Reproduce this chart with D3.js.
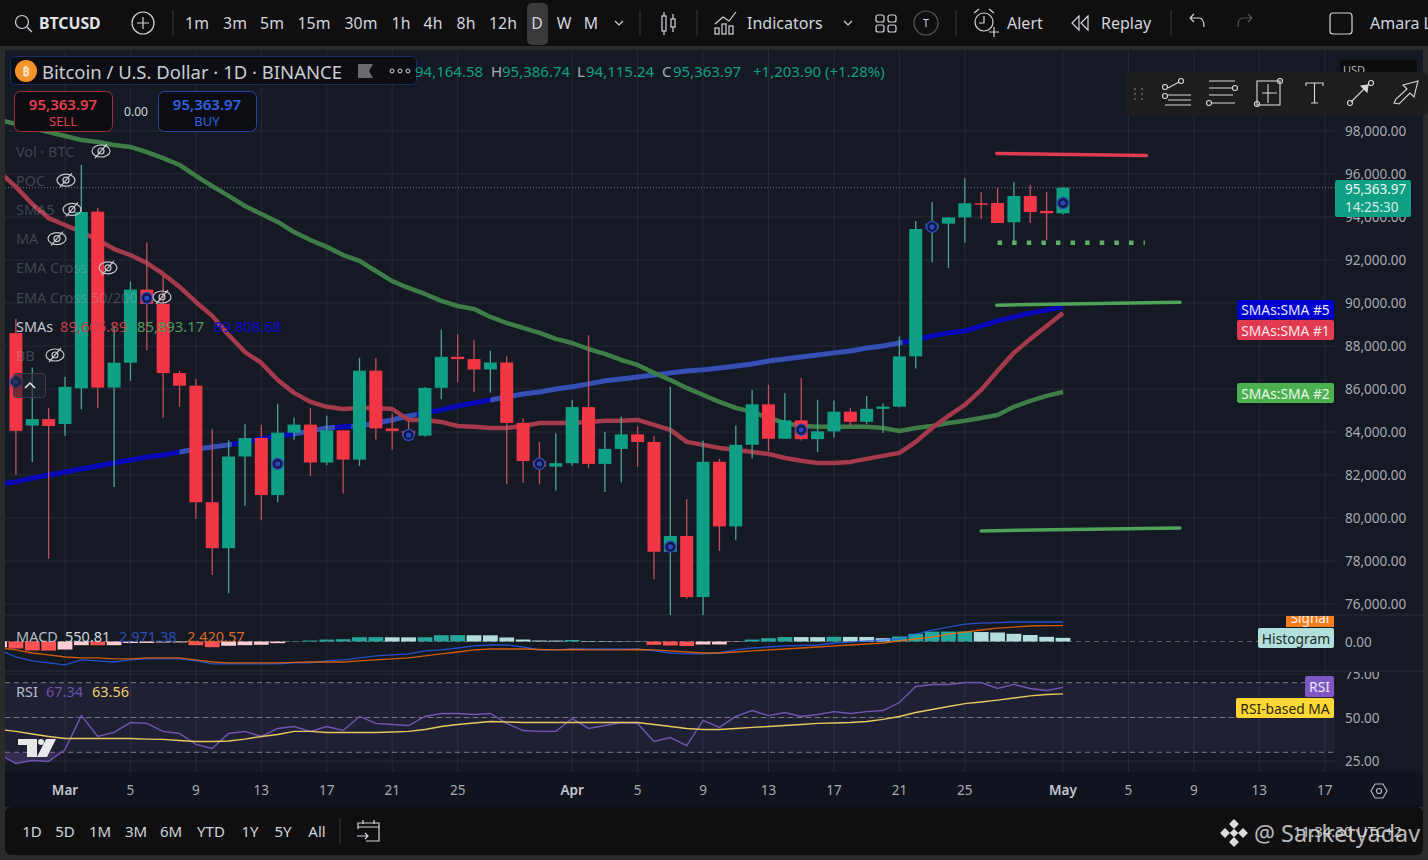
<!DOCTYPE html>
<html>
<head>
<meta charset="utf-8">
<script src="https://cdn.jsdelivr.net/npm/d3@7"></script>
<style>
  html, body { margin: 0; background: #2a2a2a; overflow: hidden; }
  text { font-family: "Noto Sans", "Open Sans", sans-serif; }
</style>
</head>
<body>
<div id="wrapper"></div>
<script>
// candles, one per day, first one is Feb 26 (day -3, Mar 1 is day 0)
const open = [88600,84300,84600,84373,86031,94248,86065,87222,90624,89961,86742,86154,80734,78595,82858,83722,81066,83969,84343,82579,84075,82718,86854,84167,84043,83832,86054,87498,87392,86909,87232,84424,82648,82389,82550,85159,82516,83213,83889,83537,78430,79163,76322,82615,79607,83404,85287,83684,84542,83668,84030,84947,84474,85077,85179,87516,93442,93691,93980,94638,94650,93755,94978,94284,94172];
const high = [89260,87000,85120,86560,96420,94416,88911,90998,92810,91283,86847,86471,84123,83617,84357,84336,85309,84672,85117,84756,84075,87453,87443,84850,84513,86094,88765,88542,88292,87786,87515,84624,83534,83943,85487,88500,83998,84720,84266,83817,86100,80867,83588,82753,84300,85956,86200,85800,86496,85500,85470,85132,85677,85320,88440,93817,94696,94000,95800,95160,95350,95630,95490,95160,95386];
const low = [82000,82600,78100,83824,85050,85117,81440,86379,87800,84667,85170,79960,77350,76500,80560,79900,80750,83639,81960,82456,81134,82409,83655,83175,83674,83795,85519,86310,85858,85837,81565,81644,81565,81279,82432,82320,81211,81659,82379,77153,74508,76239,74620,78464,78969,82769,83111,83690,83600,83070,83736,84303,84364,83949,85144,86950,91900,91630,92800,93900,93720,92880,93720,92930,94115];
const close = [84050,84600,84280,86100,94233,86065,87222,90624,89961,86742,86154,80734,78595,82858,83722,81066,83969,84343,82579,84075,82718,86854,84167,84043,83832,86054,87498,87392,86909,87232,84424,82648,82389,82550,85159,82516,83213,83889,83537,78430,79163,76322,82615,79607,83404,85287,83684,84542,83668,84030,84947,84474,85077,85179,87516,93442,93691,93980,94638,94630,93720,94978,94230,94172,95364];

// SMAs and indicators, one per day, first one is Feb 25 (day -4)
const sma1 = [96090,95400,94600,93950,93630,93300,92930,92510,92230,91860,91350,90750,90050,89400,88510,87720,87210,86420,85820,85400,85170,85070,85120,85120,85070,84560,84560,84470,84280,84240,84190,84190,84280,84420,84420,84420,84470,84520,84520,84560,84330,84100,83540,83400,83260,83170,83070,82980,82790,82660,82560,82560,82610,82750,82890,83030,83540,84190,84750,85260,85960,86840,87680,88330,88930,89530];
const sma2 = [98510,98330,98140,97950,97770,97580,97490,97350,97260,97020,96740,96420,95910,95440,94980,94510,94140,93770,93300,92930,92610,92230,91960,91490,91020,90700,90420,90100,89860,89720,89350,89070,88840,88610,88330,88140,87860,87630,87350,87120,86750,86420,86050,85720,85400,85120,84930,84650,84420,84280,84240,84240,84240,84240,84190,84050,84190,84280,84420,84520,84650,84790,85170,85450,85680,85860];
const sma5 = [81585,81680,81860,82000,82140,82280,82420,82560,82700,82840,82930,83070,83210,83300,83400,83540,83680,83820,83910,84050,84190,84240,84280,84420,84560,84750,84890,85030,85210,85350,85490,85630,85770,85860,86000,86100,86240,86380,86470,86560,86650,86750,86840,86890,86980,87070,87160,87300,87400,87490,87580,87680,87770,87910,88000,88140,88280,88470,88610,88700,88930,89170,89350,89530,89670,89810];
const macdLine = [-1290,-2360,-2960,-3270,-3570,-2810,-2960,-3120,-2810,-2660,-2660,-2660,-2960,-3420,-3420,-3420,-3420,-3420,-3270,-3270,-2960,-2810,-2510,-2200,-2050,-1900,-1440,-1290,-990,-680,-530,-530,-840,-1290,-1290,-1140,-1140,-1140,-1140,-1140,-1440,-1750,-1900,-1900,-1750,-1290,-990,-840,-680,-610,-530,-230,-80,80,230,380,1140,1750,2200,2660,2810,2890,2970,2970,2970,2971];
const signalLine = [-990,-1290,-1750,-2050,-2360,-2510,-2510,-2660,-2660,-2510,-2510,-2510,-2810,-3120,-3270,-3270,-3270,-3270,-3190,-3120,-3120,-3120,-2960,-2810,-2660,-2510,-2200,-1900,-1600,-1290,-1140,-1140,-1140,-1220,-1290,-1220,-1290,-1290,-1290,-1220,-1290,-1440,-1600,-1750,-1750,-1600,-1440,-1290,-1140,-990,-840,-680,-530,-380,-230,80,380,680,1140,1440,1750,2050,2200,2360,2430,2420];
const histValues = [-910,-1060,-1370,-1380,-1220,-560,-570,-560,-230,-220,-150,-140,-560,-870,-650,-560,-500,-260,50,150,300,350,650,660,640,630,650,960,970,950,940,610,300,150,140,230,80,70,50,40,-500,-610,-680,-460,-450,-50,300,500,680,670,660,710,700,690,500,760,1170,1510,1520,1530,1440,1370,1170,990,710,551];
const rsiValues = [28.7,23.6,25.3,24.7,31.6,51.1,39.1,41.4,47.1,46.6,42,40.8,34.5,32.2,40.8,42,39.1,43.7,44.8,42,44.8,42.5,50.6,46.6,46,45.4,50.6,52.3,52.3,51.7,52.3,46.6,42.5,42,42,49.4,43.7,45.4,47.1,46.6,36.2,38.5,33.9,48.3,44.3,50.6,54,51.1,52.9,50.6,51.7,53.4,52.3,53.4,54,58.6,67.8,69,69,70.1,70.1,66.7,69,66.7,65.5,67.34];
const rsiMa = [43.1,42,40.5,39.1,37.9,37.9,37.9,37.9,37.9,37.6,37.4,36.8,36.2,36.2,36.5,37.6,39.1,40.2,42,42,41.4,41.4,41.4,41.4,41.7,42,43.1,44.8,46,46.8,47.7,47.4,47.1,47.1,47.1,47.1,47.1,47.1,47.1,47.1,46,44.8,43.7,43.1,43.1,43.7,44.3,44.8,45.4,46,46.6,46.8,47.1,47.7,48.9,50.6,52.9,54.6,56.3,58,58.9,60,61.2,62.4,63.2,63.56];

// blue round markers every 8 days
const markerDays = [-3,5,13,21,29,37,45,53,61];
const markerPrices = [86330,90230,82520,83860,82520,78660,84100,93540,94650];

// lines the user drew on the chart [day, price, day, price]
const drawnRed = [[56.95,96950,66.1,96860]];
const drawnGreen = [[56.95,89900,68.15,90040],[56,79400,68.15,79540]];
const drawnDots = [57,92800,66,92800];

// stretches where the SMA #5 line looks paler
const blueLightSpans = [[7,10.2],[14,16.5],[17.5,21.5],[26,51.2]];

// axis
const priceTicks = [76000,78000,80000,82000,84000,86000,88000,90000,92000,94000,96000,98000];
const rsiTicks = [25,50,75];
const rsiLevels = [30,50,70];
const tickDays = [0,4,8,12,16,20,24,31,35,39,43,47,51,55,61,65,69,73,77];
const tickLabels = ["Mar","5","9","13","17","21","25","Apr","5","9","13","17","21","25","May","5","9","13","17"];

// toolbar words
const intervals = ["1m","3m","5m","15m","30m","1h","4h","8h","12h","D","W","M"];
const intervalX = [197,235,272,314,361,401,433,466,503,537,564,591];
const ranges = ["1D","5D","1M","3M","6M","YTD","1Y","5Y","All"];
const rangeX = [32,65,100,136,171,211,250,283,317];
const hiddenStudies = ["Vol · BTC","POC","SMA5","MA","EMA Cross","EMA Cross 50/200"];
const hiddenEyeX = [101,66,72,57,108,162];

const lastPrice = 95363.97;
const upColor = "#0f9f85", downColor = "#f23645";

const drawChart = () => {

    //1. dimensions
    const W = 1428, H = 860;
    const left = 5, paneRight = 1335, rightEdge = 1423;
    const mainBottom = 615, macdBottom = 671, rsiBottom = 772, timeBottom = 807;

    const svg = d3.select("#wrapper").append("svg")
        .attr("width", W).attr("height", H).style("display", "block");

    //2. scales
    const x = d3.scaleLinear().domain([0, 61]).range([65, 1063]);
    const y = d3.scaleLinear().domain([76000, 98000]).range([604, 131]);
    const yMacd = d3.scaleLinear().domain([0, 2971]).range([641.5, 622]);
    const yRsi = d3.scaleLinear().domain([25, 75]).range([761, 674]);

    const lineDays = d3.range(-4, 62);
    const candleDays = d3.range(-3, 62);

    const fmt = d3.format(",.2f");
    const label = (g, px, py, str, o = {}) => g.append("text")
        .attr("x", px).attr("y", py)
        .attr("dominant-baseline", "central")
        .attr("text-anchor", o.anchor || "start")
        .attr("fill", o.fill || "#d1d4dc")
        .attr("font-size", o.size || 14)
        .attr("font-weight", o.weight || 400)
        .text(str);

    //3. backgrounds
    svg.append("rect").attr("width", W).attr("height", H).attr("fill", "#2b2b2b");
    svg.append("rect").attr("x", 0).attr("y", 0).attr("width", W).attr("height", 46).attr("fill", "#0f0f0f");
    svg.append("rect").attr("x", left).attr("y", 50).attr("width", rightEdge - left).attr("height", rsiBottom - 50).attr("fill", "#151923");
    svg.append("rect").attr("x", left).attr("y", rsiBottom).attr("width", rightEdge - left).attr("height", timeBottom - rsiBottom).attr("fill", "#11141f");
    svg.append("rect").attr("x", left).attr("y", timeBottom).attr("width", rightEdge - left).attr("height", 48).attr("rx", 6).attr("fill", "#0f0f0f");

    const defs = svg.append("defs");
    const clip = (id, x0, y0, x1, y1) => defs.append("clipPath").attr("id", id)
        .append("rect").attr("x", x0).attr("y", y0).attr("width", x1 - x0).attr("height", y1 - y0);
    clip("mainClip", left, 50, paneRight, mainBottom);
    clip("macdClip", left, mainBottom + 1, paneRight, macdBottom);
    clip("rsiClip", left, macdBottom + 1, paneRight, rsiBottom);
    clip("rsiLowClip", left, yRsi(30), paneRight, rsiBottom);
    clip("rsiAxisClip", paneRight, macdBottom + 1, rightEdge, rsiBottom);
    const blueClip = defs.append("clipPath").attr("id", "blueClip");
    blueLightSpans.forEach(s => blueClip.append("rect")
        .attr("x", x(s[0])).attr("y", 50).attr("width", x(s[1]) - x(s[0])).attr("height", 565));

    //4. grid
    const grid = svg.append("g").attr("stroke", "#262a36").attr("stroke-width", 1);
    tickDays.forEach(d => grid.append("line").attr("x1", x(d)).attr("x2", x(d)).attr("y1", 50).attr("y2", rsiBottom));
    priceTicks.forEach(p => grid.append("line").attr("x1", left).attr("x2", paneRight).attr("y1", y(p)).attr("y2", y(p)));
    rsiTicks.forEach(p => grid.append("line").attr("x1", left).attr("x2", paneRight).attr("y1", yRsi(p)).attr("y2", yRsi(p)));
    [mainBottom, macdBottom].forEach(p => grid.append("line").attr("x1", left).attr("x2", rightEdge).attr("y1", p).attr("y2", p).attr("stroke", "#2a2e3a"));

    //5. main pane
    const main = svg.append("g").attr("clip-path", "url(#mainClip)");

    main.append("line").attr("x1", left).attr("x2", paneRight)
        .attr("y1", y(lastPrice)).attr("y2", y(lastPrice))
        .attr("stroke", "#6f7380").attr("stroke-dasharray", "1 2");

    const smaLine = d3.line().x((d, i) => x(lineDays[i])).y(d => y(d)).curve(d3.curveLinear);
    main.append("path").attr("d", smaLine(sma5)).attr("fill", "none").attr("stroke", "#0808b8").attr("stroke-width", 5);
    main.append("path").attr("d", smaLine(sma5)).attr("fill", "none").attr("stroke", "#3650b0").attr("stroke-width", 5).attr("clip-path", "url(#blueClip)");
    main.append("path").attr("d", smaLine(sma2)).attr("fill", "none").attr("stroke", "#3f7d48").attr("stroke-width", 4.5).attr("stroke-linejoin", "round");
    main.append("path").attr("d", smaLine(sma1)).attr("fill", "none").attr("stroke", "#a43a4c").attr("stroke-width", 4.5).attr("stroke-linejoin", "round");

    // wicks then bodies
    main.append("g").selectAll("line").data(candleDays).join("line")
        .attr("x1", d => x(d)).attr("x2", d => x(d))
        .attr("y1", (d, i) => y(high[i])).attr("y2", (d, i) => y(low[i]))
        .attr("stroke", (d, i) => close[i] >= open[i] ? "#4da392" : "#c2505e")
        .attr("stroke-width", 1.3);
    main.append("g").selectAll("rect").data(candleDays).join("rect")
        .attr("x", d => x(d) - 6.5).attr("width", 13)
        .attr("y", (d, i) => y(Math.max(open[i], close[i])))
        .attr("height", (d, i) => Math.max(1.5, Math.abs(y(open[i]) - y(close[i]))))
        .attr("fill", (d, i) => close[i] >= open[i] ? upColor : downColor);

    // drawn lines
    drawnRed.forEach(l => main.append("line").attr("x1", x(l[0])).attr("y1", y(l[1])).attr("x2", x(l[2])).attr("y2", y(l[3]))
        .attr("stroke", "#e23a50").attr("stroke-width", 3.5).attr("stroke-linecap", "round"));
    drawnGreen.forEach(l => main.append("line").attr("x1", x(l[0])).attr("y1", y(l[1])).attr("x2", x(l[2])).attr("y2", y(l[3]))
        .attr("stroke", "#4fa257").attr("stroke-width", 3.5).attr("stroke-linecap", "round"));
    main.append("line").attr("x1", x(drawnDots[0])).attr("y1", y(drawnDots[1])).attr("x2", x(drawnDots[2])).attr("y2", y(drawnDots[3]))
        .attr("stroke", "#5fae68").attr("stroke-width", 4.5).attr("stroke-dasharray", "4.5 10.1");

    // round markers
    markerDays.forEach((d, i) => {
        main.append("circle").attr("cx", x(d)).attr("cy", y(markerPrices[i])).attr("r", 5.5)
            .attr("fill", "#10163c").attr("stroke", "#2d48b4").attr("stroke-width", 1.5);
        main.append("circle").attr("cx", x(d)).attr("cy", y(markerPrices[i])).attr("r", 2.6).attr("fill", "#2a46c0");
    });

    //6. MACD pane
    const macd = svg.append("g").attr("clip-path", "url(#macdClip)");
    macd.append("line").attr("x1", left).attr("x2", paneRight).attr("y1", yMacd(0)).attr("y2", yMacd(0))
        .attr("stroke", "#5b606d").attr("stroke-dasharray", "5 4");
    const histColor = (v, i) => {
        const prev = i > 0 ? histValues[i - 1] : v;
        if (v >= 0) return v >= prev ? "#26a69a" : "#b2dfdb";
        return v < prev ? "#ff5252" : "#ffcdd2";
    };
    macd.append("g").selectAll("rect").data(histValues).join("rect")
        .attr("x", (d, i) => x(lineDays[i]) - 7.4).attr("width", 14.8)
        .attr("y", d => Math.min(yMacd(0), yMacd(d)))
        .attr("height", d => Math.abs(yMacd(d) - yMacd(0)))
        .attr("fill", histColor);
    const macdPath = d3.line().x((d, i) => x(lineDays[i])).y(d => yMacd(d));
    macd.append("path").attr("d", macdPath(macdLine)).attr("fill", "none").attr("stroke", "#2962ff").attr("stroke-opacity", .75).attr("stroke-width", 1.3);
    macd.append("path").attr("d", macdPath(signalLine)).attr("fill", "none").attr("stroke", "#ff6d00").attr("stroke-opacity", .8).attr("stroke-width", 1.3);

    //7. RSI pane
    const rsi = svg.append("g").attr("clip-path", "url(#rsiClip)");
    rsi.append("rect").attr("x", left).attr("width", paneRight - left)
        .attr("y", yRsi(70)).attr("height", yRsi(30) - yRsi(70)).attr("fill", "#7e57c2").attr("opacity", .11);
    rsiLevels.forEach(l => rsi.append("line").attr("x1", left).attr("x2", paneRight).attr("y1", yRsi(l)).attr("y2", yRsi(l))
        .attr("stroke", "#787b86").attr("stroke-dasharray", "5 4"));
    rsi.append("path")
        .attr("d", d3.area().x((d, i) => x(lineDays[i])).y0(yRsi(30)).y1(d => yRsi(d))(rsiValues))
        .attr("fill", "#7e57c2").attr("opacity", .3).attr("clip-path", "url(#rsiLowClip)");
    const rsiPath = d3.line().x((d, i) => x(lineDays[i])).y(d => yRsi(d));
    rsi.append("path").attr("d", rsiPath(rsiValues)).attr("fill", "none").attr("stroke", "#7155b0").attr("stroke-width", 1.4);
    rsi.append("path").attr("d", rsiPath(rsiMa)).attr("fill", "none").attr("stroke", "#e8c860").attr("stroke-width", 1.4);

    // TradingView mark
    const tv = svg.append("g").attr("fill", "#e8e8e8");
    tv.append("path").attr("d", "M18 739H37V757H27V745H18Z");
    tv.append("circle").attr("cx", 41).attr("cy", 742).attr("r", 3);
    tv.append("path").attr("d", "M46 739H56L47 757H37Z");

    //8. price axis and time axis
    const axisFill = "#a7aab4";
    priceTicks.forEach(p => label(svg, 1345, y(p), fmt(p), { fill: axisFill, size: 13.5 }));
    label(svg, 1345, yMacd(0), "0.00", { fill: axisFill, size: 13.5 });
    const rsiAxis = svg.append("g").attr("clip-path", "url(#rsiAxisClip)");
    rsiTicks.forEach(p => label(rsiAxis, 1345, yRsi(p), fmt(p), { fill: axisFill, size: 13.5 }));
    tickDays.forEach((d, i) => {
        const isMonth = /[A-Za-z]/.test(tickLabels[i]);
        label(svg, x(d), 790, tickLabels[i], { anchor: "middle", fill: isMonth ? "#c4c7cf" : axisFill, size: 13.5, weight: isMonth ? 600 : 400 });
    });
    // settings hexagon
    svg.append("path").attr("d", "M1371 791L1375 784H1383L1387 791L1383 798H1375Z").attr("fill", "none").attr("stroke", "#b2b5be").attr("stroke-width", 1.2);
    svg.append("circle").attr("cx", 1379).attr("cy", 791).attr("r", 2.5).attr("fill", "none").attr("stroke", "#b2b5be").attr("stroke-width", 1.2);

    // last price tag
    svg.append("rect").attr("x", 1335).attr("y", 180).attr("width", 76).attr("height", 37).attr("rx", 2).attr("fill", upColor);
    label(svg, 1345, 189, fmt(lastPrice), { fill: "#eef6f4", size: 13.5 });
    label(svg, 1345, 207, "14:25:30", { fill: "#d5ece7", size: 13.5 });

    // series tags
    const tag = (x0, y0, w, h, fill, txt, color) => {
        svg.append("rect").attr("x", x0).attr("y", y0).attr("width", w).attr("height", h).attr("rx", 2).attr("fill", fill);
        label(svg, x0 + w / 2, y0 + h / 2, txt, { anchor: "middle", fill: color, size: 13.8 });
    };
    tag(1237, 300, 97, 19.5, "#0000d0", "SMAs:SMA #5", "#e8e8ff");
    tag(1237, 320, 97, 20, "#e23a50", "SMAs:SMA #1", "#fbe6e8");
    tag(1237, 383, 97, 20, "#4caf50", "SMAs:SMA #2", "#e8f6e8");
    // the Signal tag is cut by the pane edge
    defs.append("clipPath").attr("id", "signalClip").append("rect").attr("x", 1280).attr("y", 616).attr("width", 60).attr("height", 11);
    const sig = svg.append("g").attr("clip-path", "url(#signalClip)");
    sig.append("rect").attr("x", 1286).attr("y", 608).attr("width", 48).attr("height", 20).attr("rx", 2).attr("fill", "#f57c1f");
    label(sig, 1310, 618, "Signal", { anchor: "middle", fill: "#fff0e0", size: 13.5 });
    tag(1258, 628, 76, 20, "#b2dfdb", "Histogram", "#1a2a2a");
    tag(1305, 676, 29, 21, "#7e57c2", "RSI", "#f0eaff");
    tag(1236, 698, 98, 20, "#fdd835", "RSI-based MA", "#2a2410");

    //9. legend, top left
    svg.append("rect").attr("x", 10.5).attr("y", 56.5).attr("width", 406).attr("height", 28).attr("rx", 4)
        .attr("fill", "#0d0e13").attr("stroke", "#1c2c66");
    svg.append("circle").attr("cx", 26).attr("cy", 71).attr("r", 11).attr("fill", "#f4932a");
    label(svg, 26, 71, "₿", { anchor: "middle", fill: "#fbe3c8", size: 13, weight: 700 });
    label(svg, 42, 71, "Bitcoin / U.S. Dollar · 1D · BINANCE", { fill: "#c9ccd3", size: 18.5 });
    svg.append("path").attr("d", "M358 64H373L369 71L373 78H358Z").attr("fill", "#6b6b6b");
    [392, 400, 408].forEach(c => svg.append("circle").attr("cx", c).attr("cy", 71).attr("r", 2).attr("fill", "none").attr("stroke", "#d1d4dc"));

    const ohlcSize = 15;
    label(svg, 415, 71, "94,164.58", { fill: "#0f9f85", size: ohlcSize });
    label(svg, 491, 71, "H", { fill: "#a7aab4", size: ohlcSize });
    label(svg, 502, 71, "95,386.74", { fill: "#0f9f85", size: ohlcSize });
    label(svg, 577, 71, "L", { fill: "#a7aab4", size: ohlcSize });
    label(svg, 586, 71, "94,115.24", { fill: "#0f9f85", size: ohlcSize });
    label(svg, 662, 71, "C", { fill: "#a7aab4", size: ohlcSize });
    label(svg, 673, 71, "95,363.97", { fill: "#0f9f85", size: ohlcSize });
    label(svg, 753, 71, "+1,203.90 (+1.28%)", { fill: "#0f9f85", size: ohlcSize });

    // buy and sell boxes
    const tradeBox = (x0, border, color, price, side) => {
        svg.append("rect").attr("x", x0 + .5).attr("y", 91.5).attr("width", 98).attr("height", 40).attr("rx", 6)
            .attr("fill", "#0c0d12").attr("stroke", border);
        label(svg, x0 + 49, 103.5, price, { anchor: "middle", fill: color, size: 15, weight: 600 });
        label(svg, x0 + 49, 121, side, { anchor: "middle", fill: color, size: 13 });
    };
    tradeBox(14, "#9c3038", "#e2404c", "95,363.97", "SELL");
    tradeBox(158, "#234a9c", "#2f62e0", "95,363.97", "BUY");
    label(svg, 136, 111, "0.00", { anchor: "middle", fill: "#d1d4dc", size: 12 });

    // hidden studies with crossed eyes
    const eye = (cx, cy) => {
        const g = svg.append("g").attr("fill", "none").attr("stroke", "#c4c6cc").attr("stroke-width", 1.2);
        g.append("ellipse").attr("cx", cx).attr("cy", cy).attr("rx", 9).attr("ry", 6);
        g.append("circle").attr("cx", cx).attr("cy", cy).attr("r", 3);
        g.append("line").attr("x1", cx - 6).attr("y1", cy + 7).attr("x2", cx + 6).attr("y2", cy - 7);
    };
    const dim = "rgba(178,181,190,.3)";
    hiddenStudies.forEach((s, i) => {
        label(svg, 16, 151 + i * 29.2, s, { fill: dim, size: 14.4 });
        eye(hiddenEyeX[i], 151 + i * 29.2);
    });
    label(svg, 16, 326, "SMAs", { fill: "#c4c7cf", size: 14.4 });
    label(svg, 60, 326, "89,605.89", { fill: "#c8404c", size: 14.8 });
    label(svg, 137, 326, "85,893.17", { fill: "#4f9a58", size: 14.8 });
    label(svg, 214, 326, "89,808.68", { fill: "#0a0ad0", size: 14.8 });
    label(svg, 16, 355, "BB", { fill: dim, size: 14.4 });
    eye(55, 355);
    svg.append("rect").attr("x", 13.5).attr("y", 373.5).attr("width", 32).attr("height", 24).attr("rx", 3)
        .attr("fill", "#20242e").attr("fill-opacity", .6).attr("stroke", "#3a3e4a");
    svg.append("path").attr("d", "M25 388L30 383L35 388").attr("fill", "none").attr("stroke", "#e8e8e8").attr("stroke-width", 1.5);

    // pane legends
    label(svg, 16, 636, "MACD", { fill: "#b8bbc4", size: 14.5 });
    label(svg, 65, 636, "550.81", { fill: "#d1d4dc", size: 14.5 });
    label(svg, 119, 636, "2,971.38", { fill: "#2a50b8", size: 14.5 });
    label(svg, 187, 636, "2,420.57", { fill: "#d8682a", size: 14.5 });
    label(svg, 16, 691, "RSI", { fill: "#b8bbc4", size: 14.5 });
    label(svg, 46, 691, "67.34", { fill: "#6a52a8", size: 14.5 });
    label(svg, 92, 691, "63.56", { fill: "#f0cf6a", size: 14.5 });

    //10. top toolbar
    const stroke = "#d1d4dc";
    const bar = svg.append("g").attr("fill", "none").attr("stroke", stroke).attr("stroke-width", 1.2);
    bar.append("circle").attr("cx", 22).attr("cy", 22).attr("r", 6.5);
    bar.append("line").attr("x1", 27).attr("y1", 27).attr("x2", 32).attr("y2", 32);
    label(svg, 39, 23, "BTCUSD", { size: 15.8, weight: 700, fill: "#e0e2e8" });
    bar.append("circle").attr("cx", 143).attr("cy", 23).attr("r", 11);
    bar.append("path").attr("d", "M137 23H149M143 17V29");
    svg.append("rect").attr("x", 527).attr("y", 3).attr("width", 21).attr("height", 42).attr("rx", 5).attr("fill", "#3a3a3a");
    intervals.forEach((t, i) => label(svg, intervalX[i], 23, t, { anchor: "middle", size: 15.8, fill: "#d1d4dc" }));
    [173, 640, 697, 956, 1171].forEach(s => svg.append("line").attr("x1", s).attr("x2", s).attr("y1", 10).attr("y2", 36).attr("stroke", "#3a3a3a"));
    bar.append("path").attr("d", "M615 21L619 25L623 21");
    // candle icon
    bar.append("rect").attr("x", 662).attr("y", 16).attr("width", 4).attr("height", 15);
    bar.append("rect").attr("x", 671).attr("y", 19).attr("width", 4).attr("height", 8);
    bar.append("path").attr("d", "M664 12V16M664 31V35M673 14V19M673 27V32");
    // indicators icon
    bar.append("path").attr("d", "M715 24L723 17L729 21L736 12");
    bar.append("rect").attr("x", 715).attr("y", 28).attr("width", 4).attr("height", 6);
    bar.append("rect").attr("x", 722).attr("y", 24).attr("width", 4).attr("height", 10);
    bar.append("rect").attr("x", 729).attr("y", 26).attr("width", 4).attr("height", 8);
    label(svg, 747, 23, "Indicators", { size: 16 });
    bar.append("path").attr("d", "M844 21L848 25L852 21");
    [[876, 15], [888, 15], [876, 25], [888, 25]].forEach(p => bar.append("rect").attr("x", p[0]).attr("y", p[1]).attr("width", 8).attr("height", 7).attr("rx", 2));
    bar.append("circle").attr("cx", 926).attr("cy", 23).attr("r", 12).attr("stroke", "#555");
    label(svg, 926, 23, "T", { anchor: "middle", size: 10.5 });
    // alarm
    bar.append("circle").attr("cx", 984).attr("cy", 22).attr("r", 9);
    bar.append("path").attr("d", "M984 16V23H979M974 13L979 9M994 13L989 9M989 32H999M994 27V37");
    label(svg, 1007, 23, "Alert", { size: 16 });
    bar.append("path").attr("d", "M1079 16L1072 23L1079 30ZM1088 16L1081 23L1088 30Z");
    label(svg, 1101, 23, "Replay", { size: 16 });
    bar.append("path").attr("d", "M1190 18L1194 14M1190 18L1194 22M1190 18H1199Q1204 18 1204 27");
    bar.append("path").attr("d", "M1252 18L1248 14M1252 18L1248 22M1252 18H1243Q1238 18 1238 27").attr("stroke", "#555");
    bar.append("rect").attr("x", 1330).attr("y", 13).attr("width", 22).attr("height", 21).attr("rx", 3);
    label(svg, 1370, 23, "Amara L", { size: 16 });

    //11. floating drawing toolbar
    svg.append("rect").attr("x", 1340).attr("y", 60).attr("width", 77).attr("height", 14).attr("rx", 3).attr("fill", "#0c0c0c");
    label(svg, 1343, 69, "USD", { size: 11, fill: "#b2b5be" });
    svg.append("rect").attr("x", 1125).attr("y", 72).attr("width", 303).attr("height", 43).attr("rx", 5).attr("fill", "#1d1d1d");
    const tool = svg.append("g").attr("fill", "none").attr("stroke", "#d8d8d8").attr("stroke-width", 1.1);
    [[1134, 88], [1141, 88], [1134, 93], [1141, 93], [1134, 98], [1141, 98]].forEach(p =>
        svg.append("rect").attr("x", p[0]).attr("y", p[1]).attr("width", 2).attr("height", 2).attr("fill", "#555"));
    tool.append("path").attr("d", "M1168 88L1179 82M1168 95H1191M1168 100H1191M1165 105H1191");
    tool.append("circle").attr("cx", 1165).attr("cy", 87).attr("r", 2.5);
    tool.append("circle").attr("cx", 1181).attr("cy", 81).attr("r", 2.5);
    tool.append("circle").attr("cx", 1165).attr("cy", 96).attr("r", 2.5);
    tool.append("path").attr("d", "M1209 81H1235M1209 88H1233M1209 95H1233M1212 103H1235");
    tool.append("circle").attr("cx", 1235).attr("cy", 88).attr("r", 2.5);
    tool.append("circle").attr("cx", 1209).attr("cy", 103).attr("r", 2.5);
    tool.append("rect").attr("x", 1257).attr("y", 81).attr("width", 23).attr("height", 24);
    tool.append("path").attr("d", "M1268 84V103M1262 93H1277");
    tool.append("circle").attr("cx", 1280).attr("cy", 81).attr("r", 2.5);
    tool.append("circle").attr("cx", 1257).attr("cy", 104).attr("r", 2.5);
    tool.append("path").attr("d", "M1306 86V83H1323V86M1314.5 83V103M1311 103H1318");
    tool.append("path").attr("d", "M1351 102L1369 84");
    tool.append("circle").attr("cx", 1350).attr("cy", 103).attr("r", 2.5);
    tool.append("circle").attr("cx", 1371).attr("cy", 83).attr("r", 2.5);
    tool.append("path").attr("d", "M1361 86L1368 85L1367 92Z").attr("fill", "#d8d8d8");
    tool.append("path").attr("d", "M1394 103L1399 104L1410 93L1414 97L1418 81L1403 85L1407 89L1396 99Z");

    //12. bottom toolbar
    ranges.forEach((t, i) => label(svg, rangeX[i], 831, t, { anchor: "middle", size: 15 }));
    svg.append("line").attr("x1", 340).attr("x2", 340).attr("y1", 818).attr("y2", 844).attr("stroke", "#3a3a3a");
    const cal = svg.append("g").attr("fill", "none").attr("stroke", "#d1d4dc").attr("stroke-width", 1.2);
    cal.append("path").attr("d", "M358 829V823H379V841H366M358 827H379M363 820V824M374 820V824M357 836H368M365 833L368 836L365 839");

    // watermark and clock
    const mark = svg.append("g").attr("fill", "#dcdcdc");
    [[1234, 824], [1225, 833], [1243, 833], [1234, 842]].forEach(p =>
        mark.append("rect").attr("x", p[0] - 3.5).attr("y", p[1] - 3.5).attr("width", 7).attr("height", 7)
            .attr("transform", `rotate(45 ${p[0]} ${p[1]})`));
    mark.append("rect").attr("x", 1231).attr("y", 830).attr("width", 6).attr("height", 6)
        .attr("transform", "rotate(45 1234 833)");
    label(svg, 1293, 831, "11:34:30 UTC+2", { size: 15, fill: "#c4c6cc" });
    label(svg, 1254, 833, "@ Sanketyadav", { size: 23.4, fill: "#dcdcdc" }).attr("opacity", .82);

};

drawChart();
</script>
</body>
</html>
